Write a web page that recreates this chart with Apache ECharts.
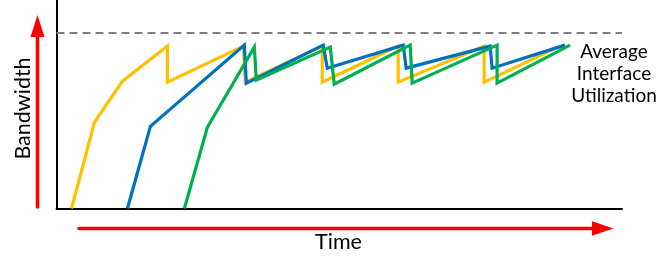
<!DOCTYPE html>
<html><head><meta charset="utf-8">
<script src="https://cdn.jsdelivr.net/npm/echarts@6/dist/echarts.min.js"></script>
<style>html,body{margin:0;padding:0;background:#fff}#c{width:668px;height:268px}</style>
</head><body><div id="c"></div>
<script>
// Time (arbitrary units) / bandwidth (arbitrary units)
const yellowT = [15, 38, 66, 111, 111, 187, 189, 266, 266, 342, 342, 428, 428, 504];
const yellowB = [0, 86, 127, 162, 126, 162, 126, 162, 126, 162, 126, 162, 126, 162];
const blueT = [71, 94, 188, 190, 267, 271, 347, 350, 434, 436, 509];
const blueB = [0, 82, 163, 125, 163, 140, 163, 140, 162, 140, 163];
const greenT = [128, 151, 198, 200, 274, 278, 354, 356, 441, 441, 514];
const greenB = [0, 81, 161, 128, 161, 124, 163, 125, 163, 125, 163];
const avgUtil = 175;
const annotation = ['Average', 'Interface', 'Utilization'];

const zip = (a, b) => a.map((v, i) => [v, b[i]]);
const font = 'Lato, "Open Sans", sans-serif';
const chart = echarts.init(document.getElementById('c'), null, {renderer: 'canvas'});
const lineSeries = (name, t, b, color) => ({
  name, type: 'line', data: zip(t, b), symbol: 'none', silent: true,
  lineStyle: {color, width: 3.2, join: 'miter'}, z: 3
});
const ser = [
  lineSeries('yellow', yellowT, yellowB, '#FFC000'),
  lineSeries('blue', blueT, blueB, '#0070C0'),
  lineSeries('green', greenT, greenB, '#00B050')
];
ser[0].markLine = {
  silent: true, symbol: 'none', label: {show: false},
  lineStyle: {color: '#7F7F7F', type: [8, 5], width: 1.8},
  data: [{yAxis: avgUtil}]
};
chart.setOption({
  animation: false,
  grid: {left: 56.5, right: 46, top: 0, bottom: 59.5},
  xAxis: {type: 'value', min: 0, max: 566, axisLine: {lineStyle: {color: '#000', width: 2}},
    axisTick: {show: false}, axisLabel: {show: false}, splitLine: {show: false}},
  yAxis: {type: 'value', min: 0, max: 208, axisLine: {show: true, lineStyle: {color: '#000', width: 2}},
    axisTick: {show: false}, axisLabel: {show: false}, splitLine: {show: false}},
  series: ser,
  graphic: [
    {type: 'line', shape: {x1: 37.5, y1: 207, x2: 37.5, y2: 36}, style: {stroke: '#FF0000', lineWidth: 3.6, lineCap: 'round'}},
    {type: 'polygon', shape: {points: [[30.5, 37], [44.5, 37], [37.5, 15]]}, style: {fill: '#FF0000'}},
    {type: 'line', shape: {x1: 79, y1: 228.5, x2: 593, y2: 228.5}, style: {stroke: '#FF0000', lineWidth: 3.6, lineCap: 'round'}},
    {type: 'polygon', shape: {points: [[592, 221.3], [592, 235.7], [613.5, 228.5]]}, style: {fill: '#FF0000'}},
    {type: 'text', x: 23.5, y: 108.5, rotation: Math.PI / 2,
      style: {text: 'Bandwidth', font: '21.5px ' + font, fill: '#000', textAlign: 'center', textVerticalAlign: 'middle'}},
    {type: 'text', x: 338.5, y: 242,
      style: {text: 'Time', font: '21.5px ' + font, fill: '#000', textAlign: 'center', textVerticalAlign: 'middle'}},
    {type: 'text', x: 614, y: 52,
      style: {text: annotation[0], font: '19px ' + font, fill: '#000', textAlign: 'center', textVerticalAlign: 'middle'}},
    {type: 'text', x: 614, y: 74,
      style: {text: annotation[1], font: '19px ' + font, fill: '#000', textAlign: 'center', textVerticalAlign: 'middle'}},
    {type: 'text', x: 614, y: 96,
      style: {text: annotation[2], font: '19px ' + font, fill: '#000', textAlign: 'center', textVerticalAlign: 'middle'}}
  ]
});
</script></body></html>
